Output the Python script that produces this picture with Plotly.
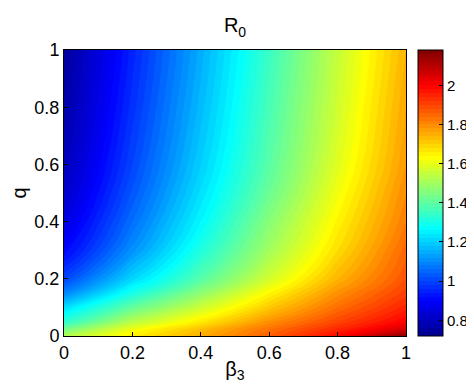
import plotly.graph_objects as go

beta3 = [0.0, 0.2, 0.4, 0.6, 0.8, 1.0]
q = [0.0, 0.02, 0.05, 0.1, 0.15, 0.2, 0.3, 0.4, 0.5, 0.6, 0.8, 1.0]

r0_q000 = [1.52, 1.65, 1.75, 1.86, 1.99, 2.17]
r0_q002 = [1.45, 1.62, 1.73, 1.84, 1.95, 2.07]
r0_q005 = [1.33, 1.53, 1.66, 1.79, 1.90, 2.00]
r0_q010 = [1.22, 1.41, 1.56, 1.71, 1.84, 1.95]
r0_q015 = [1.09, 1.30, 1.47, 1.64, 1.79, 1.91]
r0_q020 = [1.00, 1.21, 1.39, 1.57, 1.74, 1.88]
r0_q030 = [0.90, 1.11, 1.31, 1.50, 1.68, 1.85]
r0_q040 = [0.85, 1.06, 1.26, 1.46, 1.645, 1.82]
r0_q050 = [0.815, 1.025, 1.225, 1.42, 1.615, 1.80]
r0_q060 = [0.79, 1.00, 1.20, 1.395, 1.59, 1.78]
r0_q080 = [0.76, 0.97, 1.17, 1.37, 1.565, 1.76]
r0_q100 = [0.74, 0.95, 1.15, 1.35, 1.55, 1.74]

z = [r0_q000, r0_q002, r0_q005, r0_q010, r0_q015, r0_q020,
     r0_q030, r0_q040, r0_q050, r0_q060, r0_q080, r0_q100]

cbar_ticks = [0.8, 1.0, 1.2, 1.4, 1.6, 1.8, 2.0]
cbar_labels = ["0.8", "1", "1.2", "1.4", "1.6", "1.8", "2"]
axis_ticks = [0, 0.2, 0.4, 0.6, 0.8, 1]
axis_labels = ["0", "0.2", "0.4", "0.6", "0.8", "1"]

zmin, zmax = 0.72, 2.18

jet = [[0.0, "#00008F"], [0.125, "#0000FF"], [0.375, "#00FFFF"],
       [0.625, "#FFFF00"], [0.875, "#FF0000"], [1.0, "#800000"]]

font = dict(family="Liberation Sans, Arial, sans-serif", color="black", size=18)
cbfont = dict(family="Liberation Sans, Arial, sans-serif", color="black", size=15)

fig = go.Figure(go.Contour(
    x=beta3, y=q, z=z,
    colorscale=jet, zmin=zmin, zmax=zmax,
    contours=dict(start=zmin, end=zmax, size=0.02, coloring="fill", showlines=False),
    line=dict(width=0, smoothing=1.3),
    colorbar=dict(
        x=1.035, xanchor="left", xref="paper", y=0.5, yanchor="middle",
        len=1.0, thickness=25, outlinecolor="black", outlinewidth=1,
        tickvals=cbar_ticks, ticktext=cbar_labels, ticks="inside", ticklen=4,
        tickcolor="black", tickfont=cbfont, ypad=0, xpad=0,
    ),
))

fig.update_layout(
    width=474, height=388,
    margin=dict(l=56, r=76, t=42, b=60, autoexpand=False),
    paper_bgcolor="white", plot_bgcolor="white",
    font=font,
    title=dict(text="R<sub>0</sub>", x=0.5, xref="paper", xanchor="center",
               y=0.955, yanchor="middle", font=dict(size=20)),
)
fig.update_xaxes(range=[0, 1], tickvals=axis_ticks, ticktext=axis_labels,
                 ticks="inside", ticklen=4, tickcolor="black",
                 showline=True, linecolor="black", linewidth=1, mirror=True,
                 showgrid=False, zeroline=False,
                 title=dict(text="β<sub>3</sub>", standoff=0, font=dict(size=20)))
fig.update_yaxes(range=[0, 1], tickvals=axis_ticks, ticktext=axis_labels,
                 ticks="inside", ticklen=4, tickcolor="black",
                 showline=True, linecolor="black", linewidth=1, mirror=True,
                 showgrid=False, zeroline=False,
                 title=dict(text="q", standoff=4, font=dict(size=20)))

fig.write_html("out.html")
